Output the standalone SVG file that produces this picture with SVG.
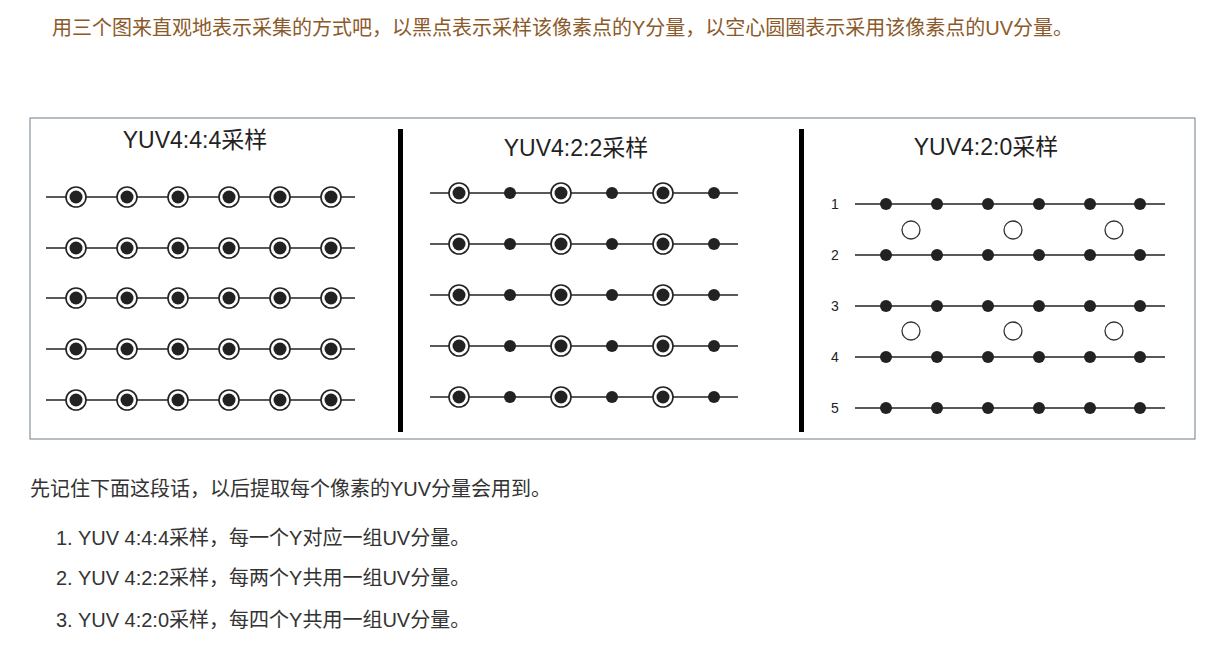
<svg xmlns="http://www.w3.org/2000/svg" width="1222" height="651" viewBox="0 0 1222 651">
<style>
text{font-family:"Liberation Sans","Noto Sans CJK SC",sans-serif;}
.t{font-size:20px;fill:#333}
.h{font-size:23px;fill:#222}
.n{font-size:14px;fill:#222}
.ln{stroke:#222;stroke-width:1.6}
.ring{fill:#fff;stroke:#222;stroke-width:1.6}
.dot{fill:#222}
.open{fill:#fff;stroke:#333;stroke-width:1.3}
</style>
<defs>
<g id="rd"><circle r="10" class="ring"/><circle r="6.5" class="dot"/></g>
<circle id="sd" r="6" class="dot"/>
<circle id="oc" r="9" class="open"/>
<g id="r444">
<line x1="46" x2="355" y1="0" y2="0" class="ln"/>
<use href="#rd" x="76"/><use href="#rd" x="127"/><use href="#rd" x="178"/><use href="#rd" x="229"/><use href="#rd" x="280"/><use href="#rd" x="331"/>
</g>
<g id="r422">
<line x1="430" x2="738" y1="0" y2="0" class="ln"/>
<use href="#rd" x="459"/><use href="#sd" x="510"/><use href="#rd" x="561"/><use href="#sd" x="612"/><use href="#rd" x="663"/><use href="#sd" x="714"/>
</g>
<g id="r420">
<line x1="855" x2="1165" y1="0" y2="0" class="ln"/>
<use href="#sd" x="886"/><use href="#sd" x="937"/><use href="#sd" x="988"/><use href="#sd" x="1039"/><use href="#sd" x="1090"/><use href="#sd" x="1140"/>
</g>
</defs>
<rect width="1222" height="651" fill="#fff"/>
<text x="52" y="35" class="t" style="fill:#8b5a2b">用三个图来直观地表示采集的方式吧，以黑点表示采样该像素点的Y分量，以空心圆圈表示采用该像素点的UV分量。</text>
<rect x="30" y="118" width="1165" height="321" fill="#fff" stroke="#6f7f8a" stroke-width="1"/>
<g id="bars"><rect x="398" y="129" width="5" height="303" fill="#000"/><rect x="799" y="129" width="5" height="303" fill="#000"/></g>
<g id="p444">
<text x="195" y="148" class="h" text-anchor="middle">YUV4:4:4采样</text>
<use href="#r444" y="197"/><use href="#r444" y="248"/><use href="#r444" y="298"/><use href="#r444" y="349"/><use href="#r444" y="400"/>
</g>
<g id="p422">
<text x="576" y="156" class="h" text-anchor="middle">YUV4:2:2采样</text>
<use href="#r422" y="193"/><use href="#r422" y="244"/><use href="#r422" y="295"/><use href="#r422" y="346"/><use href="#r422" y="397"/>
</g>
<g id="p420">
<text x="986" y="155" class="h" text-anchor="middle">YUV4:2:0采样</text>
<use href="#r420" y="204"/><use href="#r420" y="255"/><use href="#r420" y="306"/><use href="#r420" y="357"/><use href="#r420" y="408"/>
<use href="#oc" x="911" y="230"/><use href="#oc" x="1013" y="230"/><use href="#oc" x="1114" y="230"/>
<use href="#oc" x="911" y="331"/><use href="#oc" x="1013" y="331"/><use href="#oc" x="1114" y="331"/>
<text x="835" y="209" class="n" text-anchor="middle">1</text>
<text x="835" y="260" class="n" text-anchor="middle">2</text>
<text x="835" y="311" class="n" text-anchor="middle">3</text>
<text x="835" y="362" class="n" text-anchor="middle">4</text>
<text x="835" y="413" class="n" text-anchor="middle">5</text>
</g>
<text x="30" y="496" class="t">先记住下面这段话，以后提取每个像素的YUV分量会用到。</text>
<text x="56" y="545" class="t">1. YUV 4:4:4采样，每一个Y对应一组UV分量。</text>
<text x="56" y="585" class="t">2. YUV 4:2:2采样，每两个Y共用一组UV分量。</text>
<text x="56" y="627" class="t">3. YUV 4:2:0采样，每四个Y共用一组UV分量。</text>
</svg>
